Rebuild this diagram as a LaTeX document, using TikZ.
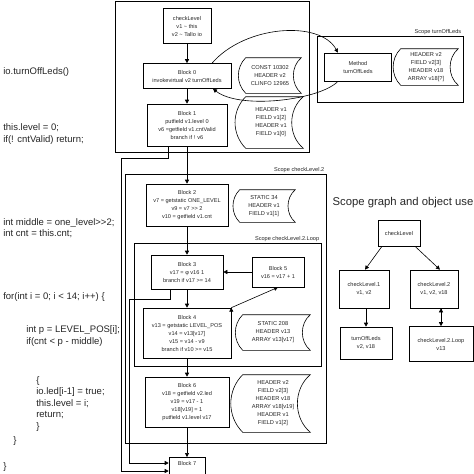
\documentclass[tikz,border=0pt]{standalone}
\usepackage{fontspec}
\setmainfont{Liberation Sans}
\usetikzlibrary{arrows.meta}

\newcommand{\blkfont}{\fontsize{5.6}{8}\selectfont}
\newcommand{\tagfont}{\fontsize{5.7}{8}\selectfont}
\newcommand{\scfont}{\fontsize{5.6}{7}\selectfont}
\newcommand{\codefont}{\fontsize{9.5}{11.5}\selectfont}
\newcommand{\datatag}[1]{\draw (#1.north west) to[bend right=45] (#1.south west) -- ([xshift=7pt]#1.south east) to[bend left=50] ([xshift=7pt]#1.north east) -- cycle;}

\begin{document}
\begin{tikzpicture}
  [x=1pt,y=-1pt,line width=0.6pt,
   every node/.style={font=\blkfont,text=black!85},
   blk/.style={draw=black,align=center,inner sep=1pt},
   tag/.style={align=center,inner sep=1pt,font=\tagfont},
   arr/.style={-{Triangle[length=4pt,width=4pt]}},
   code/.style={font=\codefont,align=left,anchor=west,inner sep=0pt},
   sclabel/.style={font=\scfont,anchor=south east,inner sep=1.5pt}]
  \useasboundingbox (0,0) rectangle (474,474);

  % source code
  \node[code] (c1) at (3,72) {io.turnOffLeds()};
  \node[code] (c2) at (3,134) {this.level = 0;\\if(! cntValid) return;};
  \node[code] (c3) at (3,228) {int middle = one\_level>{}>2;\\int cnt = this.cnt;};
  \node[code] (c4) at (3,297) {for(int i = 0; i < 14; i++) \{};
  \node[code] (c5) at (26,336) {int p = LEVEL\_POS[i];\\if(cnt < p - middle)};
  \node[code] (c6) at (36,404) {\{\\io.led[i-1] = true;\\this.level = i;\\return;\\\}};
  \node[code] (c7) at (13,441) {\}};
  \node[code] (c8) at (3,467) {\}};

  % scopes
  \draw (115,1) rectangle (309,152);
  \draw (317,36) rectangle (463,102);
  \node[sclabel] (s1) at (463,36) {Scope turnOffLeds};
  \draw (125,174) rectangle (326,443);
  \node[sclabel] (s2) at (326,174) {Scope checkLevel.2};
  \draw (134,243) rectangle (321,366);
  \node[sclabel] (s3) at (321,243) {Scope checkLevel.2.Loop};

  % blocks
  \node[blk,minimum width=48,minimum height=35] (chk) at (187,26)
    {checkLevel\\v1 \textasciitilde{} this\\v2 \textasciitilde{} TalIo io};
  \node[blk,minimum width=88,minimum height=25] (b0) at (187,76)
    {Block 0\\invokevirtual v2 turnOffLeds};
  \node[blk,minimum width=80,minimum height=42] (b1) at (187,125)
    {Block 1\\putfield v1.level 0\\v6 =getfield v1.cntValid\\branch if ! v6};
  \node[blk,minimum width=67,minimum height=28] (mth) at (358,67)
    {Method\\turnOffLeds};
  \node[blk,minimum width=82,minimum height=42] (b2) at (187,205)
    {Block 2\\v7 = getstatic ONE\_LEVEL\\v9 = v7 >{}> 2\\v10 = getfield v1.cnt};
  \node[blk,minimum width=72,minimum height=34] (b3) at (187,272)
    {Block 3\\v17 = φ v16 1\\branch if v17 >= 14};
  \node[blk,minimum width=52,minimum height=30] (b5) at (278,272)
    {Block 5\\v16 = v17 + 1};
  \node[blk,minimum width=88,minimum height=50] (b4) at (187,333)
    {Block 4\\v13 = getstatic LEVEL\_POS\\v14 = v13[v17]\\v15 = v14 - v9\\branch if v10 >= v15};
  \node[blk,minimum width=84,minimum height=50] (b6) at (187,402)
    {Block 6\\v18 = getfield v2.led\\v19 = v17 - 1\\v18[v19] = 1\\putfield v1.level v17};
  \node[blk,anchor=north,minimum width=36,inner ysep=4pt,text depth=22pt] (b7) at (187,457)
    {Block 7};

  % object tags
  \node[tag,minimum width=48,minimum height=35] (t0) at (270,75.5)
    {CONST 10302\\HEADER v2\\CLINFO 12965};
  \node[tag,minimum width=50,minimum height=51] (t1) at (271,122.5)
    {HEADER v1\\FIELD v1[2]\\HEADER v1\\FIELD v1[0]};
  \node[tag,minimum width=50,minimum height=36] (t2) at (426,67)
    {HEADER v2\\FIELD v2[3]\\HEADER v18\\ARRAY v18[?]};
  \node[tag,minimum width=48,minimum height=32] (t3) at (264,206)
    {STATIC 34\\HEADER v1\\FIELD v1[1]};
  \node[tag,minimum width=60,minimum height=35] (t4) at (273,332.5)
    {STATIC 208\\HEADER v13\\ARRAY v13[v17]};
  \node[tag,minimum width=60,minimum height=57] (t5) at (273,403.5)
    {HEADER v2\\FIELD v2[3]\\HEADER v18\\ARRAY v18[v19]\\HEADER v1\\FIELD v1[2]};
  \datatag{t0}
  \datatag{t1}
  \datatag{t2}
  \datatag{t3}
  \datatag{t4}
  \datatag{t5}

  % control flow
  \path[draw,arr]
    (chk) edge (b0)
    (b0) edge (b1)
    (b1) edge (b2)
    (b2) edge (b3)
    (b3) edge (b4)
    (b5) edge (b3)
    (b4.north east) edge (b5.south)
    (b4) edge (b6)
    (b6) edge (b7);
  \draw[arr] ([xshift=-19pt]b1.south) |- (121,158) |- ([yshift=-14pt]b7.north west);
  \draw[arr] ([xshift=-17pt]b3.south) |- (129,299) |- ([yshift=-6pt]b7.north west);
  \draw[arr] ([xshift=25pt]b0.north) .. controls (245,25) and (320,20) .. ([xshift=-20pt]mth.north);
  \draw[arr] ([xshift=-20pt]mth.south) .. controls (320,100) and (240,110) .. ([xshift=26pt]b0.south);

  % scope graph
  \node[anchor=west,font=\fontsize{11.3}{13}\selectfont] (title) at (329,203) {Scope graph and object use};
  \node[blk,minimum width=42,minimum height=26] (g0) at (399,233) {checkLevel};
  \node[blk,minimum width=50,minimum height=38] (g1) at (364,289) {checkLevel.1\\v1, v2};
  \node[blk,minimum width=48,minimum height=38] (g2) at (434,289) {checkLevel.2\\v1, v2, v18};
  \node[blk,minimum width=52,minimum height=32] (g3) at (366,343) {turnOffLeds\\v2, v18};
  \node[blk,minimum width=64,minimum height=35] (g4) at (441,344) {checkLevel.2.Loop\\v13};
  \path[draw,arr]
    ([xshift=-17pt]g0.south) edge ([xshift=1pt]g1.north)
    ([xshift=16pt]g0.south) edge ([xshift=6pt]g2.north)
    (g3 |- g1.south) edge (g3.north)
    (g4 |- g2.south) edge (g4.north);
\end{tikzpicture}
\end{document}
